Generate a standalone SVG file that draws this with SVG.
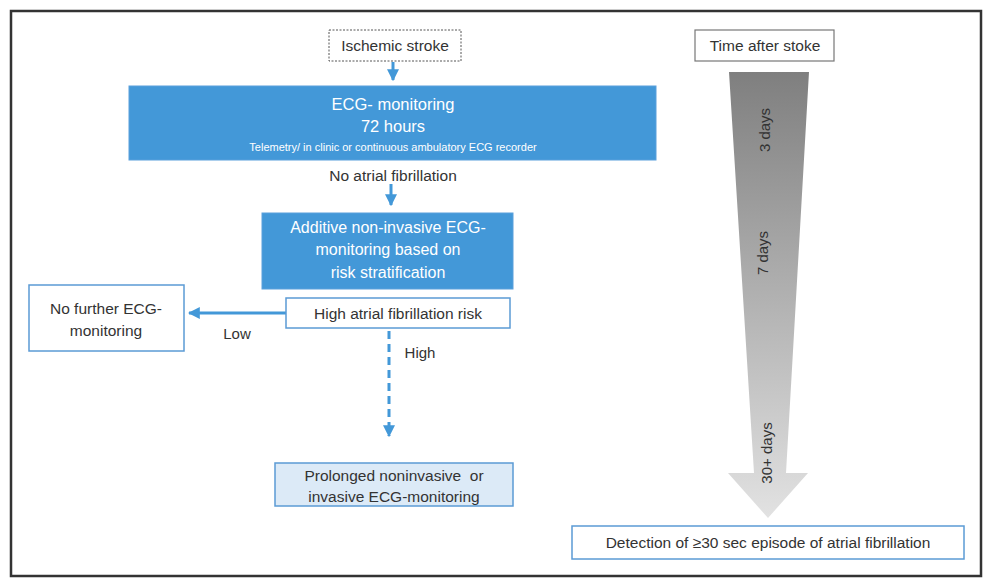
<svg xmlns="http://www.w3.org/2000/svg" width="1000" height="587" viewBox="0 0 1000 587">
<defs>
<style>
text{font-family:"Liberation Sans",Arial,sans-serif;fill:#333;text-anchor:middle;white-space:pre}
.w{fill:#fff}
.blue{fill:#4398d8;stroke:#5ba0dc;stroke-width:1}
.box{fill:#fff;stroke:#5b9bd5;stroke-width:1.5}
.conn{stroke:#4398d8;stroke-width:3;fill:none}
</style>
<linearGradient id="g" x1="0" y1="0" x2="0" y2="1">
<stop offset="0" stop-color="#7f7f7f"/>
<stop offset="1" stop-color="#e2e2e2"/>
</linearGradient>
<marker id="ah" viewBox="0 0 10 10" refX="9" refY="5" markerWidth="4" markerHeight="4" orient="auto" markerUnits="strokeWidth">
<path d="M0,0 L10,5 L0,10 Z" fill="#4398d8"/>
</marker>
</defs>
<rect x="11" y="11" width="970" height="565" fill="#fff" stroke="#333" stroke-width="2.5"/>

<g id="connectors">
<line class="conn" x1="393" y1="62" x2="393" y2="80" marker-end="url(#ah)"/>
<line class="conn" x1="391" y1="184" x2="391" y2="205" marker-end="url(#ah)"/>
<line class="conn" x1="286" y1="313" x2="189" y2="313" marker-end="url(#ah)"/>
<line class="conn" x1="389" y1="331" x2="389" y2="436" stroke-dasharray="8,5" marker-end="url(#ah)"/>
<text x="237" y="339" style="font-size:15px">Low</text>
<text x="420" y="358" style="font-size:15px">High</text>
</g>

<g id="n-stroke">
<rect x="329" y="30" width="132" height="31" fill="#fff" stroke="#555" stroke-width="1" stroke-dasharray="2,1.5"/>
<text x="395" y="51" style="font-size:15.5px">Ischemic stroke</text>
</g>

<g id="n-ecg72">
<rect class="blue" x="129" y="86" width="527" height="74"/>
<text class="w" x="393" y="110" style="font-size:16.5px">ECG- monitoring</text>
<text class="w" x="393" y="132" style="font-size:16.5px">72 hours</text>
<text class="w" x="393" y="151" style="font-size:11px">Telemetry/ in clinic or continuous ambulatory ECG recorder</text>
</g>

<g id="n-noaf">
<text x="393" y="181" style="font-size:15.5px">No atrial fibrillation</text>
</g>

<g id="n-additive">
<rect class="blue" x="262" y="213" width="251" height="76"/>
<text class="w" x="388" y="233" style="font-size:16px">Additive non-invasive ECG-</text>
<text class="w" x="388" y="255" style="font-size:16px">monitoring based on</text>
<text class="w" x="388" y="278" style="font-size:16px">risk stratification</text>
</g>

<g id="n-risk">
<rect class="box" x="286" y="298" width="224" height="30"/>
<text x="398" y="319" style="font-size:15.5px">High atrial fibrillation risk</text>
</g>

<g id="n-nofurther">
<rect class="box" x="29" y="285" width="155" height="66"/>
<text x="106" y="314" style="font-size:15.5px">No further ECG-</text>
<text x="106" y="336" style="font-size:15.5px">monitoring</text>
</g>

<g id="n-prolonged">
<rect x="275" y="463" width="238" height="43" fill="#dceaf7" stroke="#5b9bd5" stroke-width="1.5"/>
<text x="394" y="481" style="font-size:15.5px">Prolonged noninvasive  or</text>
<text x="394" y="502" style="font-size:15.5px">invasive ECG-monitoring</text>
</g>

<g id="n-time">
<rect x="695" y="30" width="139" height="31" fill="#fff" stroke="#777" stroke-width="1.2"/>
<text x="765" y="51" style="font-size:15.5px">Time after stoke</text>
</g>

<g id="n-timearrow">
<path d="M729,72 L809,72 L786,473 L808,473 L768,518 L728,473 L754,473 Z" fill="url(#g)"/>
<text transform="translate(770,130) rotate(-90)" style="font-size:15px">3 days</text>
<text transform="translate(768,253) rotate(-90)" style="font-size:15px">7 days</text>
<text transform="translate(772,453) rotate(-90)" style="font-size:15px">30+ days</text>
</g>

<g id="n-detection">
<rect class="box" x="572" y="526" width="392" height="33"/>
<text x="768" y="548" style="font-size:15.5px">Detection of ≥30 sec episode of atrial fibrillation</text>
</g>
</svg>
